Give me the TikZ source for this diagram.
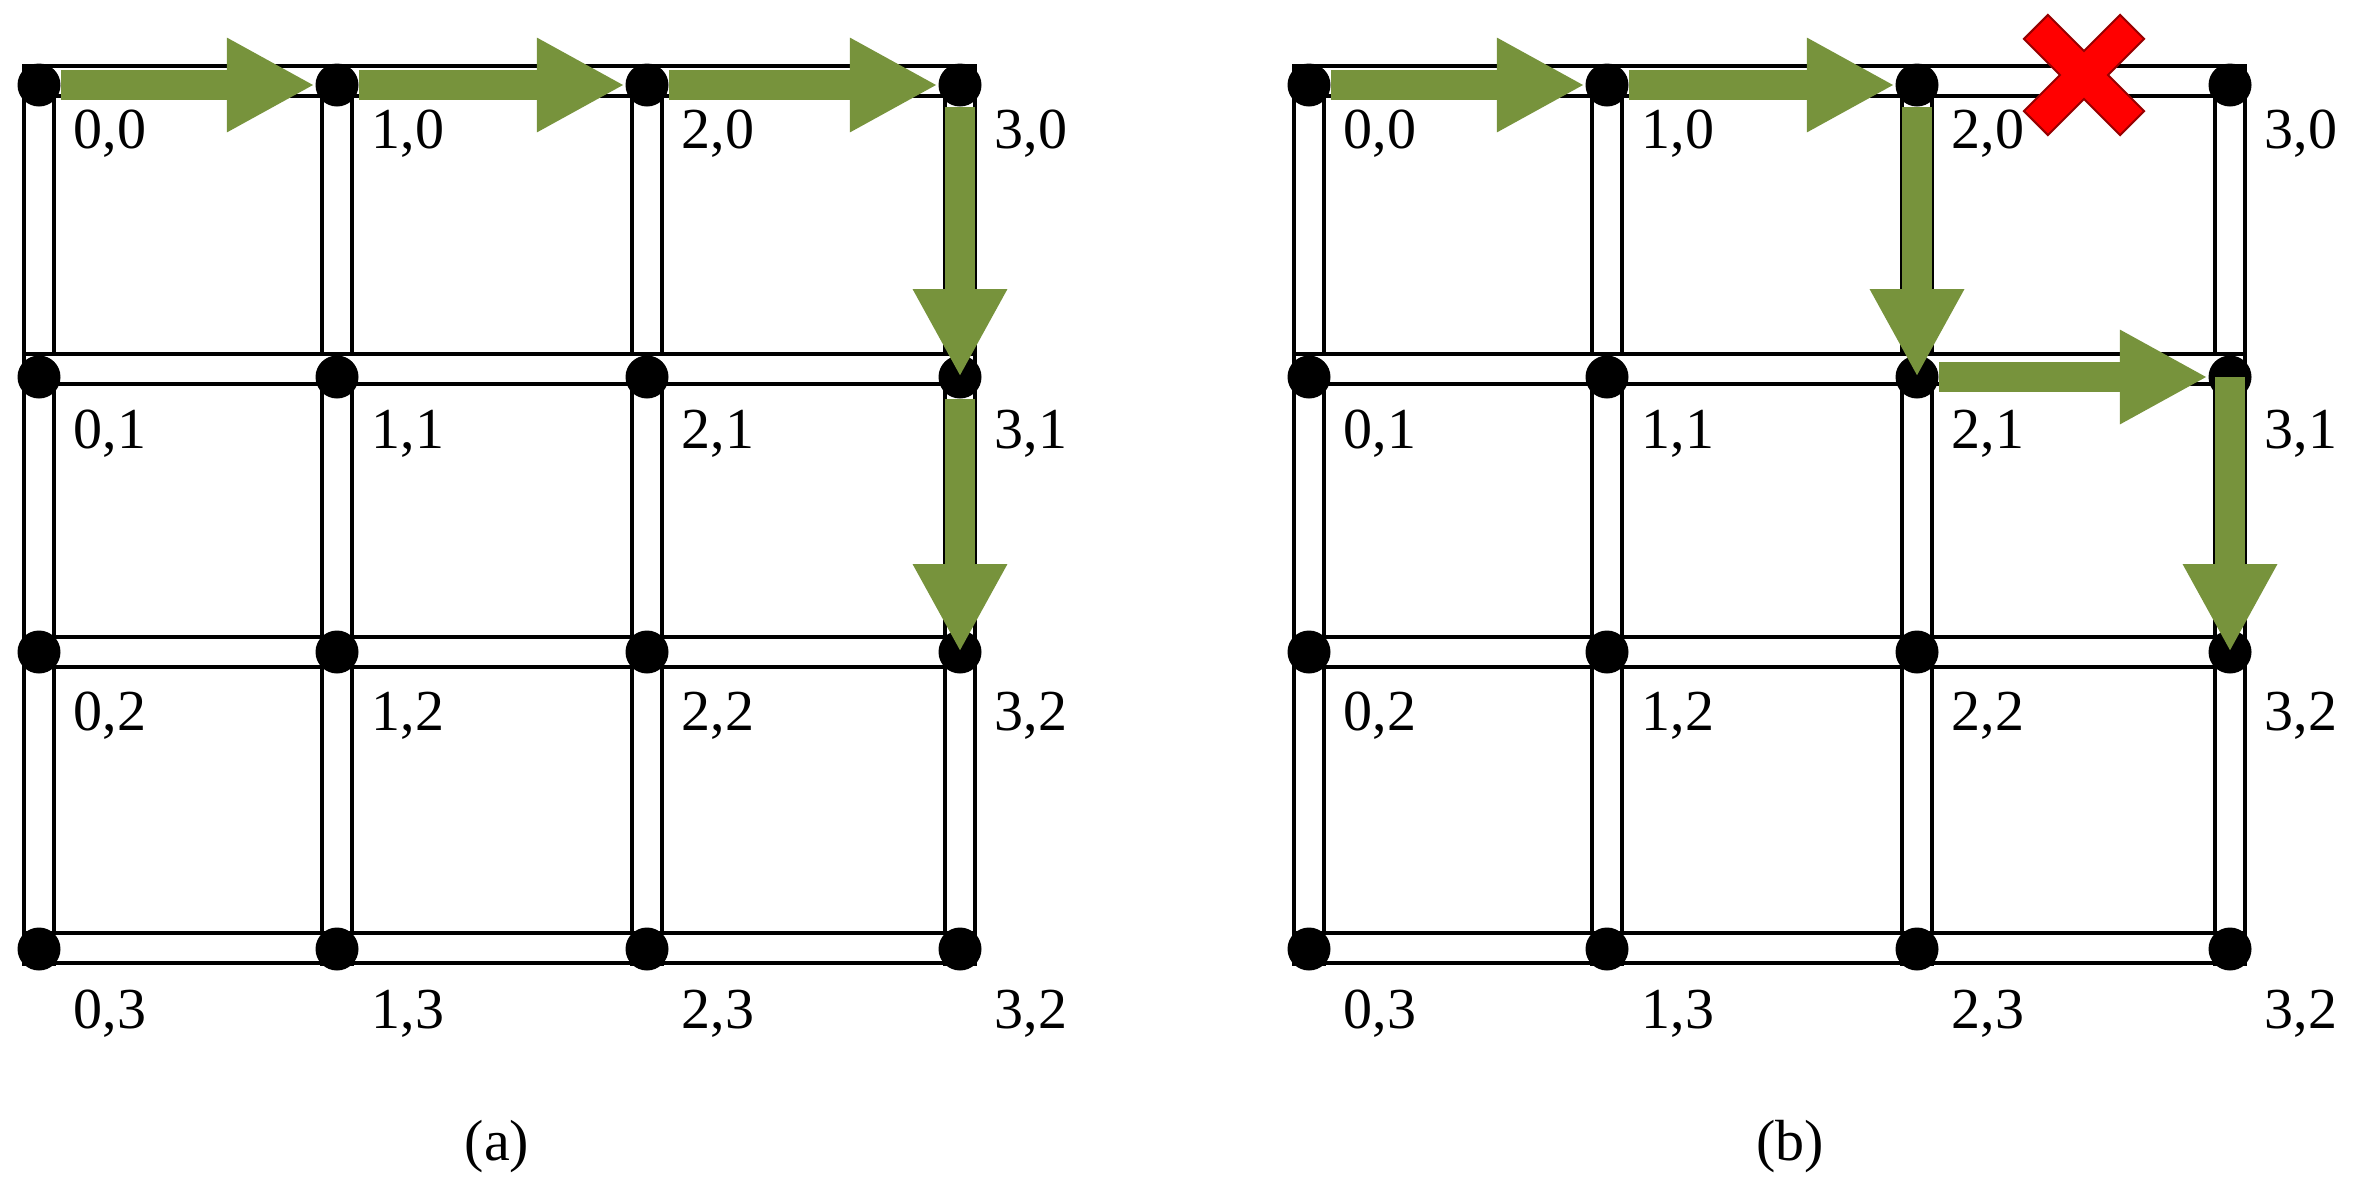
\documentclass[tikz,border=0pt]{standalone}
\usepackage{fontspec}
\setmainfont{Liberation Serif}
\usetikzlibrary{arrows.meta,backgrounds}
\definecolor{routegreen}{RGB}{119,147,60}
\definecolor{nogored}{RGB}{255,0,0}
\definecolor{nogoedge}{RGB}{150,0,0}

\begin{document}
\begin{tikzpicture}[
  dot/.style={circle, fill=black, inner sep=0pt, minimum size=0.43cm},
  channel/.style={draw=black, line width=0.04cm, double=white, double distance=0.26cm, line cap=rect},
  route/.style={draw=routegreen, line width=0.30cm, -{Triangle[width=0.88cm,length=0.88cm]}},
  lbl/.style={anchor=base west, inner sep=0pt, font=\fontsize{16.5}{19}\selectfont},
  nogo/.style={fill=nogored, draw=nogoedge, line width=0.02cm}
]
  \useasboundingbox (0,0) rectangle (23.64,-11.89);

  \foreach \p/\dx in {a/0,b/12.70} {
    % junctions
    \foreach \i/\x in {0/0.39,1/3.37,2/6.47,3/9.60}
      \foreach \j/\y in {0/-0.85,1/-3.77,2/-6.52,3/-9.49}
        \node[dot] (\p\i\j) at (\x+\dx,\y) {};
    % channels (columns first, rows on top)
    \begin{scope}[on background layer]
      \foreach \i in {0,...,3}
        \draw[channel] (\p\i0.center) -- (\p\i3.center);
      \foreach \j/\off in {0/0.04,1/0.08,2/0,3/0.01}
        \draw[channel] ([yshift=\off cm]\p0\j.center) -- ([yshift=\off cm]\p3\j.center);
    \end{scope}
    % labels
    \foreach \j/\b/\k in {0/0.63/0,1/0.71/1,2/0.78/2,3/0.79/2} {
      \foreach \i in {0,1,2}
        \node[lbl] (\p l\i\j) at ([xshift=0.34cm,yshift=-\b cm]\p\i\j.center) {\i,\j};
      \node[lbl] (\p l3\j) at ([xshift=0.34cm,yshift=-\b cm]\p3\j.center) {3,\k};
    }
  }

  \node[lbl, anchor=base] (capa) at (4.97,-11.60) {(a)};
  \node[lbl, anchor=base] (capb) at (17.90,-11.60) {(b)};

  % route (a)
  \draw[route] (a00) -- (a10);
  \draw[route] (a10) -- (a20);
  \draw[route] (a20) -- (a30);
  \draw[route] (a30) -- (a31.center);
  \draw[route] (a31) -- (a32.center);

  % route (b), blocked between 2,0 and 3,0
  \draw[route] (b00) -- (b10);
  \draw[route] (b10) -- (b20);
  \draw[route] (b20) -- (b21.center);
  \draw[route] (b21) -- (b31);
  \draw[route] (b31.center) -- (b32.center);

  \begin{scope}[shift={(20.84,-0.75)}, rotate=45]
    \draw[nogo] (0.17,0.17) -- (0.17,0.68) -- (-0.17,0.68) -- (-0.17,0.17) -- (-0.68,0.17) -- (-0.68,-0.17)
      -- (-0.17,-0.17) -- (-0.17,-0.68) -- (0.17,-0.68) -- (0.17,-0.17) -- (0.68,-0.17) -- (0.68,0.17) -- cycle;
  \end{scope}
\end{tikzpicture}
\end{document}
